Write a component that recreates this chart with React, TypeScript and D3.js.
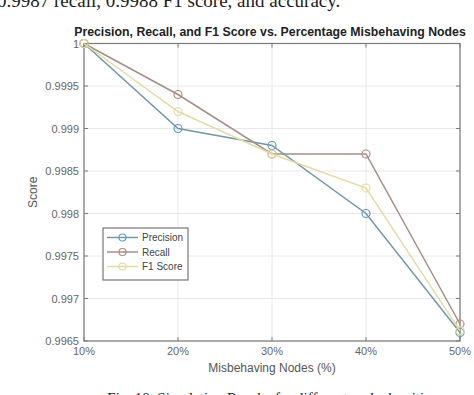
import React from "react";
import { scaleLinear, scalePoint, line } from "d3";

const categories = ["10%", "20%", "30%", "40%", "50%"];
const precision = [1, 0.999, 0.9988, 0.998, 0.9966];
const recall = [1, 0.9994, 0.9987, 0.9987, 0.9967];
const f1 = [1, 0.9992, 0.9987, 0.9983, 0.99662];
const yTicks = [0.9965, 0.997, 0.9975, 0.998, 0.9985, 0.999, 0.9995, 1];

const series = [
  { name: "Precision", values: precision, color: "#7197a8", marker: "#5a9fc2" },
  { name: "Recall", values: recall, color: "#a68e86", marker: "#b58a7c" },
  { name: "F1 Score", values: f1, color: "#e3dba6", marker: "#e6d89a" },
];

const App = () => {
  const width = 474;
  const height = 395;
  const left = 84, right = 460, top = 43.5, bottom = 341;

  const x = scalePoint().domain(categories).range([left, right]);
  const y = scaleLinear().domain([0.9965, 1]).range([bottom, top]);

  const path = line<number>()
    .x((_, i) => x(categories[i]) as number)
    .y((d) => y(d));

  const font = "Arial, 'Liberation Sans', sans-serif";

  return (
    <svg width={width} height={height} viewBox={`0 0 ${width} ${height}`}
      style={{ position: "absolute", left: 0, top: 0, background: "#fff" }}>
      <text x={-3} y={7} fontFamily="'Times New Roman', 'Liberation Serif', serif" fontSize={19} fill="#222">
        0.9987 recall, 0.9988 F1 score, and accuracy.
      </text>

      <text x={(left + right) / 2 - 2} y={36} textAnchor="middle" fontFamily={font}
        fontWeight="bold" fontSize={12.3} fill="#222">
        Precision, Recall, and F1 Score vs. Percentage Misbehaving Nodes
      </text>

      {/* grid */}
      {categories.map((c) => (
        <line key={c} x1={x(c)} x2={x(c)} y1={top} y2={bottom} stroke="#e8e8e8" strokeWidth={1} />
      ))}
      {yTicks.map((t) => (
        <line key={t} x1={left} x2={right} y1={y(t)} y2={y(t)} stroke="#e8e8e8" strokeWidth={1} />
      ))}

      {/* box */}
      <rect x={left} y={top} width={right - left} height={bottom - top} fill="none" stroke="#7a7a7a" strokeWidth={1.2} />

      {/* ticks */}
      {yTicks.map((t) => (
        <g key={t}>
          <line x1={left} x2={left + 4} y1={y(t)} y2={y(t)} stroke="#7a7a7a" />
          <line x1={right} x2={right - 4} y1={y(t)} y2={y(t)} stroke="#7a7a7a" />
          <text x={left - 5} y={y(t) + 4} textAnchor="end" fontFamily={font} fontSize={11} fill="#666">
            {String(t)}
          </text>
        </g>
      ))}
      {categories.map((c) => (
        <g key={c}>
          <line x1={x(c)} x2={x(c)} y1={bottom} y2={bottom - 4} stroke="#7a7a7a" />
          <line x1={x(c)} x2={x(c)} y1={top} y2={top + 4} stroke="#7a7a7a" />
          <text x={x(c)} y={bottom + 14} textAnchor="middle" fontFamily={font} fontSize={11} fill="#666">
            {c}
          </text>
        </g>
      ))}

      <text x={(left + right) / 2} y={372} textAnchor="middle" fontFamily={font} fontSize={12} fill="#555">
        Misbehaving Nodes (%)
      </text>
      <text transform={`translate(37,${(top + bottom) / 2}) rotate(-90)`} textAnchor="middle"
        fontFamily={font} fontSize={12} fill="#555">
        Score
      </text>

      {/* series */}
      {series.map((s) => (
        <g key={s.name}>
          <path d={path(s.values) ?? ""} fill="none" stroke={s.color} strokeWidth={1.5} />
          {s.values.map((v, i) => (
            <circle key={i} cx={x(categories[i])} cy={y(v)} r={4} fill="none" stroke={s.marker} strokeWidth={1.2} />
          ))}
        </g>
      ))}

      {/* legend */}
      <rect x={103} y={228} width={85} height={52} fill="#fff" stroke="#777" strokeWidth={1.2} />
      {series.map((s, i) => {
        const ly = 237.5 + i * 14.5;
        return (
          <g key={s.name}>
            <line x1={107} x2={138} y1={ly} y2={ly} stroke={s.color} strokeWidth={1.5} />
            <circle cx={122.5} cy={ly} r={3.5} fill="none" stroke={s.marker} strokeWidth={1.2} />
            <text x={142} y={ly + 3.5} fontFamily={font} fontSize={10} fill="#444">{s.name}</text>
          </g>
        );
      })}

      <text x={272} y={403} textAnchor="middle" fontFamily="'Times New Roman', 'Liberation Serif', serif"
        fontSize={15} fill="#222">
        Fig. 10. Simulation Results for different node densities
      </text>
    </svg>
  );
};

export default App;
